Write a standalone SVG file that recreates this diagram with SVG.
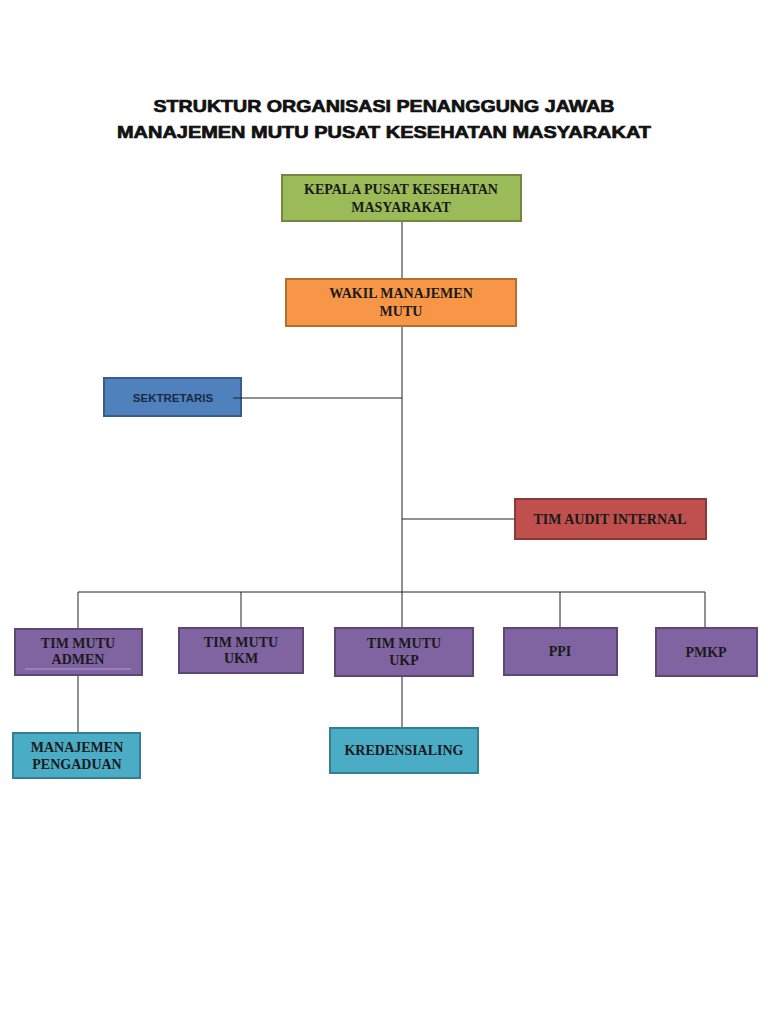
<svg xmlns="http://www.w3.org/2000/svg" width="768" height="1024" viewBox="0 0 768 1024">
<style>
.t{font-family:"Liberation Sans",Arial,sans-serif;font-weight:bold;font-size:17px;fill:#111;stroke:#111;stroke-width:0.7;text-anchor:middle}
.s{font-family:"Liberation Serif","Times New Roman",serif;font-weight:bold;font-size:14px;fill:#1a1a1a;text-anchor:middle}
.a{font-family:"Liberation Sans",Arial,sans-serif;font-weight:bold;font-size:11.5px;fill:#1a2a44;text-anchor:middle}
.c{stroke:#222;stroke-width:1;fill:none}
rect{stroke-width:2}
.g{fill:#9BBB59;stroke:#71893F}
.o{fill:#F79646;stroke:#B66D31}
.b{fill:#4F81BD;stroke:#385D8A}
.r{fill:#C0504D;stroke:#8C3836}
.p{fill:#8064A2;stroke:#5C4776}
.q{fill:#4BACC6;stroke:#357D91}
</style>
<rect width="768" height="1024" fill="#fff" stroke="none"/>
<text class="t" x="384" y="112" textLength="461" lengthAdjust="spacingAndGlyphs">STRUKTUR ORGANISASI PENANGGUNG JAWAB</text>
<text class="t" x="384" y="138" textLength="534" lengthAdjust="spacingAndGlyphs">MANAJEMEN MUTU PUSAT KESEHATAN MASYARAKAT</text>
<g id="connectors">
<path class="c" d="M402 221V279M402 326V592M78 592H705M78 592V629M241 592V628M402 592V628M560 592V628M705 592V628M402 519H515M78 675V733M402 676V728"/>
</g>
<g id="kepala"><rect class="g" x="282" y="175" width="239" height="46"/><text class="s" x="401" y="194">KEPALA PUSAT KESEHATAN</text><text class="s" x="401" y="212">MASYARAKAT</text></g>
<g id="wakil"><rect class="o" x="286" y="279" width="230" height="47"/><text class="s" x="401" y="298">WAKIL MANAJEMEN</text><text class="s" x="401" y="316">MUTU</text></g>
<g id="sekretaris"><rect class="b" x="104" y="378" width="137" height="38"/><text class="a" x="173" y="402">SEKTRETARIS</text></g>
<g id="audit"><rect class="r" x="515" y="499" width="191" height="40"/><text class="s" x="610" y="524">TIM AUDIT INTERNAL</text></g>
<g id="admen"><rect class="p" x="15" y="629" width="127" height="46"/><text class="s" x="78" y="648">TIM MUTU</text><text class="s" x="78" y="664">ADMEN</text><line x1="25" y1="669" x2="131" y2="669" stroke="#A08CC0" stroke-width="1.5"/></g>
<g id="ukm"><rect class="p" x="179" y="628" width="124" height="45"/><text class="s" x="241" y="647">TIM MUTU</text><text class="s" x="241" y="663">UKM</text></g>
<g id="ukp"><rect class="p" x="335" y="628" width="138" height="48"/><text class="s" x="404" y="648">TIM MUTU</text><text class="s" x="404" y="665">UKP</text></g>
<g id="ppi"><rect class="p" x="504" y="628" width="113" height="47"/><text class="s" x="560" y="656">PPI</text></g>
<g id="pmkp"><rect class="p" x="656" y="628" width="101" height="48"/><text class="s" x="706" y="657">PMKP</text></g>
<g id="pengaduan"><rect class="q" x="13" y="733" width="127" height="45"/><text class="s" x="77" y="752">MANAJEMEN</text><text class="s" x="77" y="769">PENGADUAN</text></g>
<g id="kredensialing"><rect class="q" x="330" y="728" width="148" height="45"/><text class="s" x="404" y="755">KREDENSIALING</text></g>
<line class="c" x1="233" y1="398" x2="402" y2="398"/>
</svg>
